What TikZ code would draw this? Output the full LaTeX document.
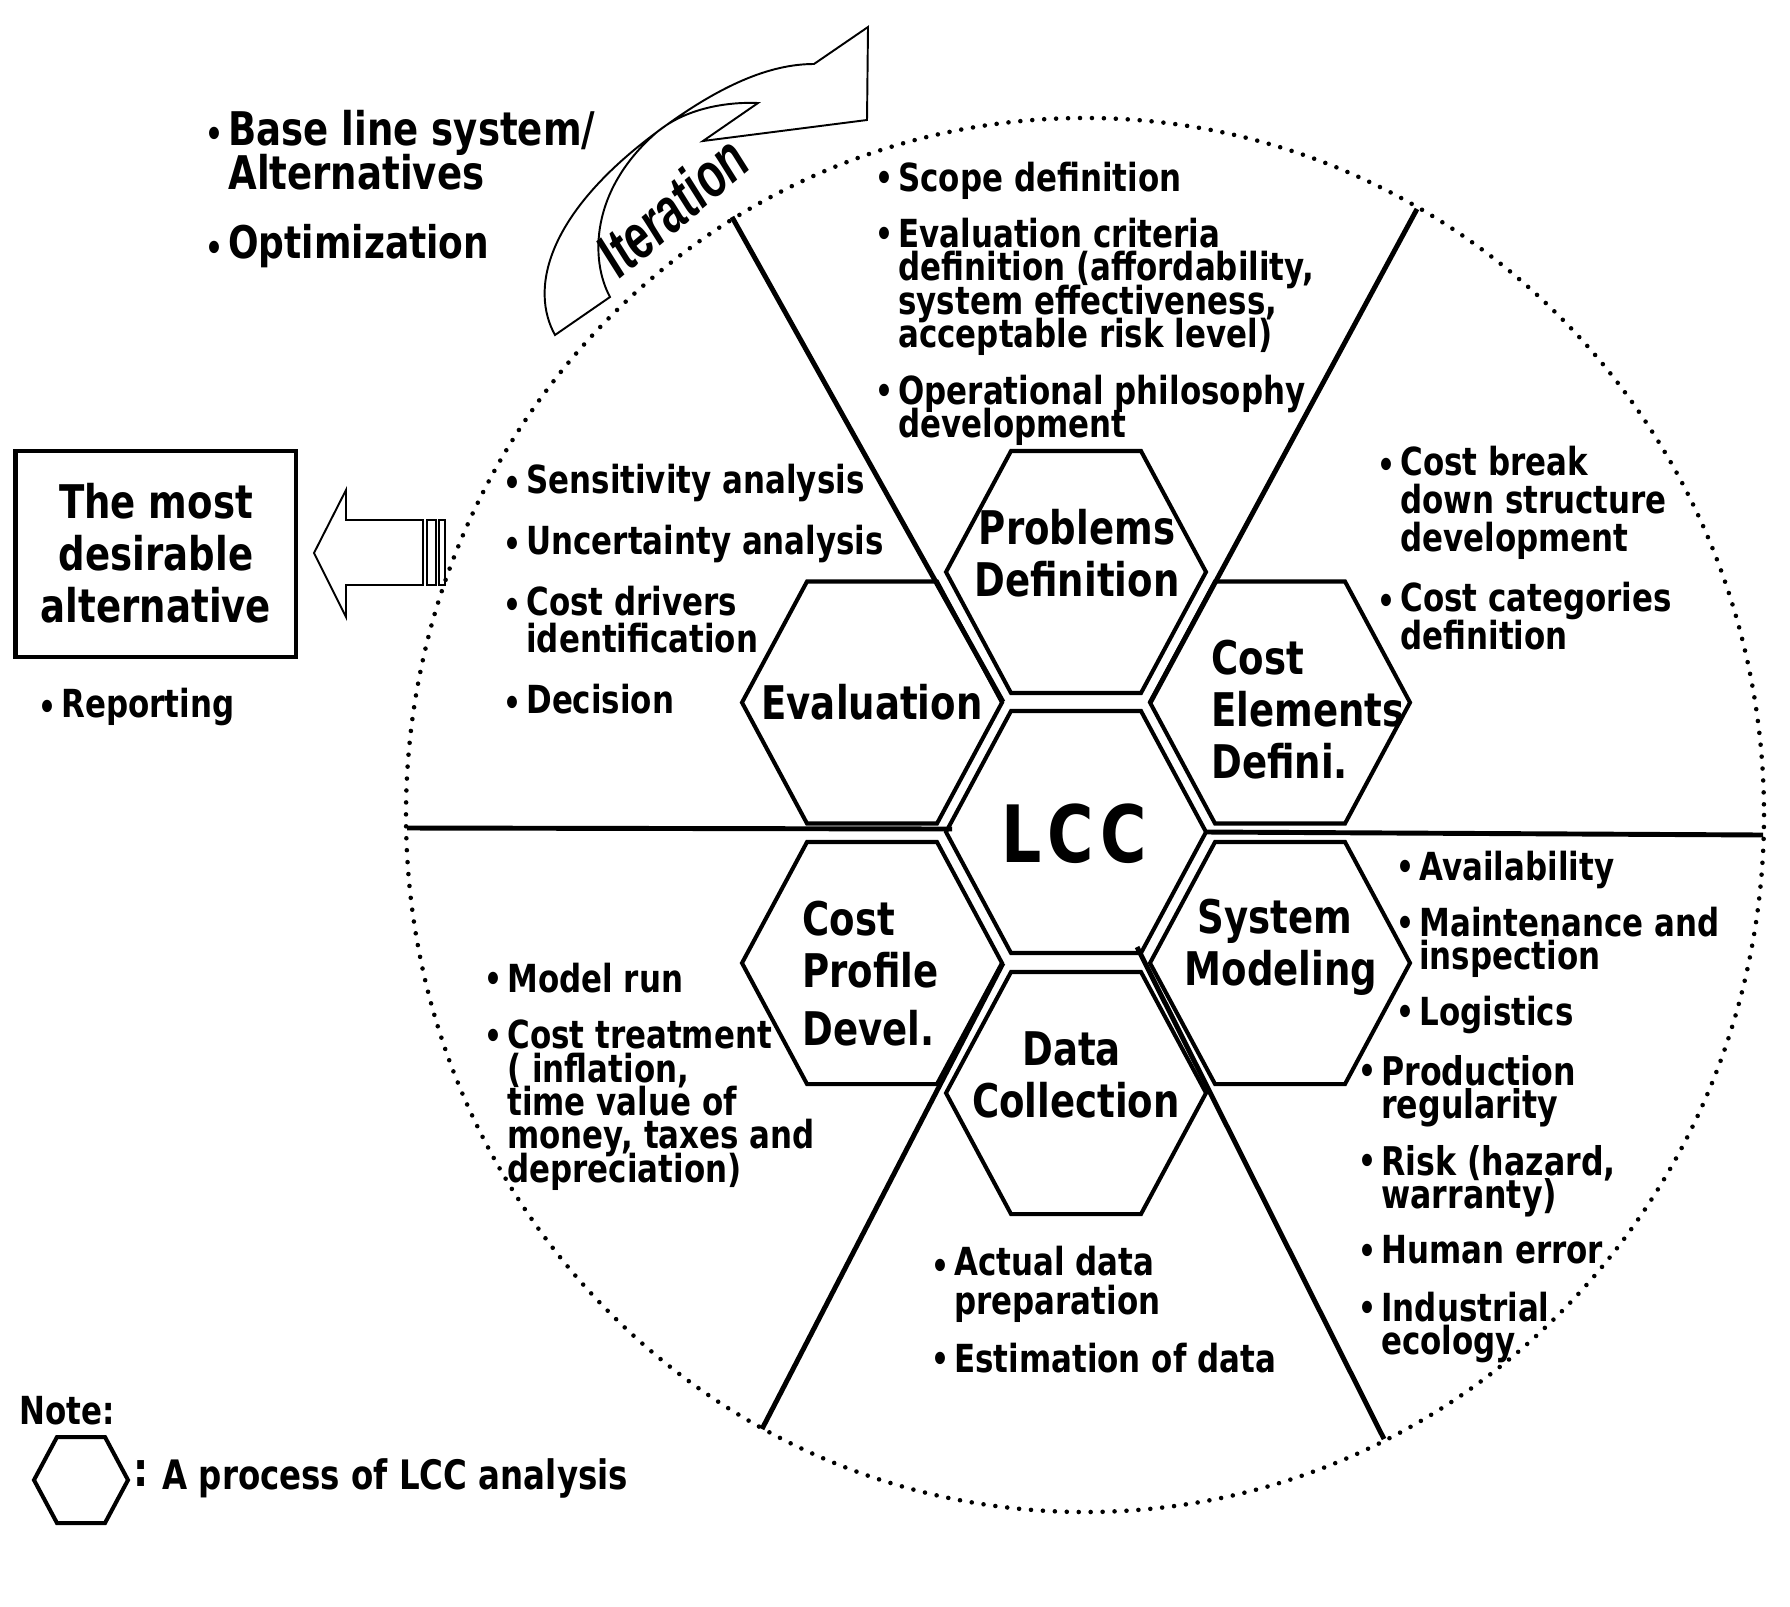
\documentclass[tikz,border=0pt]{standalone}
\usepackage{fontspec}
\setmainfont{DejaVu Sans}[UprightFont={* Bold},FakeStretch=0.8]
\newfontfamily\iterfont{Liberation Sans}[FakeStretch=0.7]
\newfontfamily\lccfont{DejaVu Sans}[UprightFont={* Bold},FakeStretch=0.8,LetterSpace=8]
\tikzset{
  hexline/.style={line width=2.3pt,line join=miter},
  spoke/.style={line width=2.8pt},
  outline/.style={line width=1.1pt,line join=miter},
  linetext/.style 2 args={inner sep=0pt,align=left,anchor=north west,yshift=#2*0.7pt,
    font={\fontsize{#1}{#2}\selectfont\lineskiplimit=-100pt}},
  hexlabel/.style={linetext={26.4}{29.6},align=center,anchor=north},
  hexlabelleft/.style={linetext={26.4}{29.6}},
  bulletmark/.style={inner sep=0pt,anchor=base,font=\fontsize{20}{20}\selectfont,yshift=-3pt},
}
\newcommand{\bitem}[6][22]{%
\node[bulletmark] (#2b) at (#3-14,#4) {•};
\node[linetext={#1}{#5}] (#2) at (#3,#4) {\strut #6};
}
\begin{document}
\begin{tikzpicture}[x=0.02cm,y=-0.02cm]
\useasboundingbox (0,0) rectangle (1790,1606);
\draw[line width=2.6pt,line cap=round,dash pattern=on 0pt off 6.8pt] (1085,815) ellipse (679 and 697);
\draw[spoke] (407,828) -- (952,829);
\draw[spoke] (1207,832) -- (1763,835);
\draw[spoke] (732,217) -- (1003,702);
\draw[spoke] (1417,209) -- (1150,703);
\draw[spoke] (762,1429) -- (1003,963);
\draw[spoke] (1384,1439) -- (1137,947);
\foreach \cx/\cy in {1076/832,1076/572,1076/1093,872/702.5,1280/702.5,872/963,1280/963}
  \draw[hexline] (\cx-130,\cy) -- (\cx-65,\cy-121) -- (\cx+65,\cy-121) -- (\cx+130,\cy) -- (\cx+65,\cy+121) -- (\cx-65,\cy+121) -- cycle;
\draw[hexline] (34,1480) -- (57,1437) -- (105,1437) -- (128,1480) -- (105,1523) -- (57,1523) -- cycle;
\draw[line width=2.6pt] (15.5,451) rectangle (296,657);
\draw[outline] (314,553) -- (346,490) -- (346,520) -- (423,520) -- (423,585) -- (346,585) -- (346,617) -- cycle;
\draw[outline] (427,520) rectangle (436,585);
\draw[outline] (439,520) rectangle (445,585);
\draw[outline] (555,335) .. controls (530,290) and (545,215) .. (657,132) .. controls (720,85) and (770,64) .. (814,64) -- (868,27) -- (867,120) -- (703,141) -- (758,103) .. controls (735,102) and (690,105) .. (657,132) .. controls (590,190) and (590,260) .. (610,297) -- cycle;
\node[rotate=40,inner sep=0pt,font=\iterfont\fontsize{36}{36}\selectfont\bfseries\itshape] (iter) at (672,206) {Iteration};
\node[linetext={45}{45},anchor=north] (lcc) at (1074,859) {\strut\lccfont LCC};
\node[hexlabel] (problems) at (1077,544) {\strut Problems\\Definition};
\node[hexlabel] (data) at (1076,1065) {\strut Data\hspace*{5pt}\\Collection};
\node[hexlabel] (system) at (1281,933) {\strut System\hspace*{7pt}\\Modeling};
\node[hexlabel] (evaluation) at (872,719) {\strut Evaluation};
\node[hexlabelleft] (elements) at (1211,674) {\strut Cost\\Elements\\Defini.};
\node[hexlabelleft] (profile) at (802,935) {\strut Cost\\Profile\\[3.5pt]Devel.};
\node[hexlabel] (desirable) at (156,518) {\strut The most\\desirable\\alternative};
\bitem[26.4]{baseline}{228}{141}{25}{Base line system/\\Alternatives}
\bitem[25.6]{optimization}{228}{255}{25}{Optimization}
\bitem{reporting}{61}{714}{21}{Reporting}
\bitem{sensitivity}{526}{490}{21}{Sensitivity analysis}
\bitem{uncertainty}{526}{551}{21}{Uncertainty analysis}
\bitem{drivers}{526}{612}{21.3}{Cost drivers\\identification}
\bitem{decision}{526}{710}{21}{Decision}
\bitem{scope}{898}{185}{19}{Scope definition}
\bitem{criteria}{898}{241}{19}{Evaluation criteria\\definition (affordability,\\system effectiveness,\\acceptable risk level)}
\bitem{philosophy}{898}{398}{19}{Operational philosophy\\development}
\bitem{breakdown}{1400}{472}{21.6}{Cost break\\down structure\\development}
\bitem{categories}{1400}{608}{21.6}{Cost categories\\definition}
\bitem{availability}{1419}{874}{19}{Availability}
\bitem{maintenance}{1419}{930}{19}{Maintenance and\\inspection}
\bitem{logistics}{1419}{1019}{19}{Logistics}
\bitem[22.5]{production}{1381}{1078}{19}{Production\\regularity}
\bitem[22.5]{risk}{1381}{1168}{19}{Risk (hazard,\\warranty)}
\bitem{human}{1381}{1258}{19}{Human error}
\bitem{ecology}{1381}{1315}{19}{Industrial\\ecology}
\bitem{actual}{954}{1273}{22}{Actual data\\preparation}
\bitem{estimation}{954}{1366}{19}{Estimation of data}
\bitem{modelrun}{507}{986}{19}{Model run}
\bitem{treatment}{507}{1043}{19}{Cost treatment\\( inflation,\\time value of\\money, taxes and\\depreciation)}
\node[linetext={22}{22}] (note) at (19.5,1423) {\strut Note:};
\node[linetext={27}{27}] (colon) at (133,1486) {\strut :};
\node[linetext={23.1}{23.1}] (process) at (162,1487) {\strut A process of LCC analysis};
\end{tikzpicture}
\end{document}
